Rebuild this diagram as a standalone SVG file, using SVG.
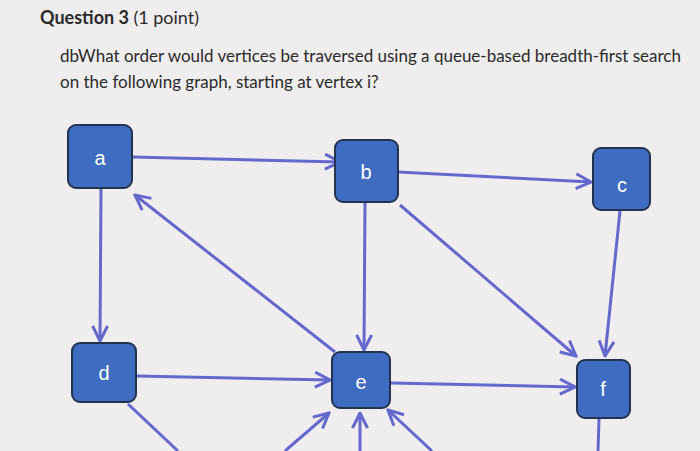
<svg xmlns="http://www.w3.org/2000/svg" width="700" height="451" viewBox="0 0 700 451">
<style>
.n{fill:#3d6cc0;stroke:#23324f;stroke-width:2}
.l{fill:#fff;font-family:"Liberation Sans",Arial,sans-serif;font-size:20px;text-anchor:middle}
.e{stroke:#6468cc;stroke-width:3;fill:none}
.t{font-family:Lato,"Liberation Sans",sans-serif;fill:#2a2a2a}
</style>
<defs>
<marker id="ar" viewBox="0 0 12 12" refX="11" refY="6" markerWidth="6" markerHeight="6" orient="auto" markerUnits="strokeWidth">
<path d="M1,1 L11,6 L1,11" fill="none" stroke="#6468cc" stroke-width="2"/>
</marker>
</defs>
<rect width="700" height="451" fill="#efedee"/>
<text class="t" x="40" y="24" font-size="18" font-weight="bold">Question 3 <tspan font-weight="normal">(1 point)</tspan></text>
<text class="t" x="60" y="62" font-size="17">dbWhat order would vertices be traversed using a queue-based breadth-first search</text>
<text class="t" x="60" y="88" font-size="17">on the following graph, starting at vertex i?</text>
<g id="edges">
<line class="e" x1="133" y1="157" x2="340" y2="162" marker-end="url(#ar)"/>
<line class="e" x1="398" y1="172" x2="591" y2="182" marker-end="url(#ar)"/>
<line class="e" x1="101" y1="189" x2="100" y2="341" marker-end="url(#ar)"/>
<line class="e" x1="335" y1="352" x2="135" y2="195" marker-end="url(#ar)"/>
<line class="e" x1="365" y1="203" x2="364" y2="350" marker-end="url(#ar)"/>
<line class="e" x1="400" y1="205" x2="576" y2="356" marker-end="url(#ar)"/>
<line class="e" x1="620" y1="211" x2="605" y2="356" marker-end="url(#ar)"/>
<line class="e" x1="137" y1="376" x2="330" y2="380" marker-end="url(#ar)"/>
<line class="e" x1="391" y1="383" x2="575" y2="387" marker-end="url(#ar)"/>
<line class="e" x1="128" y1="404" x2="178" y2="451"/>
<line class="e" x1="285" y1="451" x2="329" y2="413" marker-end="url(#ar)"/>
<line class="e" x1="360" y1="451" x2="360" y2="413" marker-end="url(#ar)"/>
<line class="e" x1="432" y1="451" x2="388" y2="410" marker-end="url(#ar)"/>
<line class="e" x1="599" y1="419" x2="598" y2="451"/>
</g>
<g id="a"><rect class="n" x="68" y="125" width="64" height="63" rx="8"/><text class="l" x="100" y="165">a</text></g>
<g id="b"><rect class="n" x="335" y="140" width="63" height="62" rx="8"/><text class="l" x="366" y="179">b</text></g>
<g id="c"><rect class="n" x="593" y="148" width="57" height="62" rx="8"/><text class="l" x="622" y="192" font-size="18">c</text></g>
<g id="d"><rect class="n" x="72" y="343" width="64" height="59" rx="8"/><text class="l" x="104" y="380">d</text></g>
<g id="e"><rect class="n" x="332" y="352" width="58" height="56" rx="8"/><text class="l" x="361" y="389">e</text></g>
<g id="f"><rect class="n" x="577" y="360" width="53" height="58" rx="8"/><text class="l" x="603" y="396">f</text></g>
</svg>
